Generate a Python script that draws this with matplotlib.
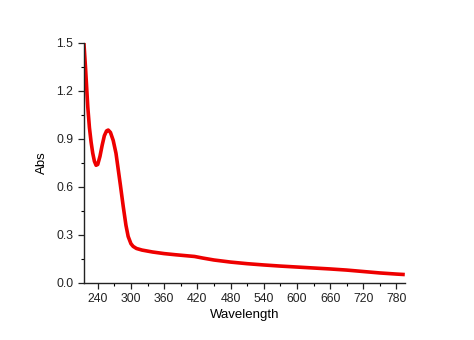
import matplotlib
matplotlib.use("Agg")
import matplotlib.pyplot as plt
from matplotlib.ticker import MultipleLocator

plt.rcParams['font.family'] = ['Liberation Sans', 'DejaVu Sans']

wavelength = [215, 218, 222, 225, 228, 231, 234, 237, 240, 244, 248, 252, 256, 259,
              263, 268, 273, 277, 281, 286, 291, 295, 300, 304, 310, 320, 339, 360,
              380, 399, 415, 430, 450, 480, 510, 540, 570, 600, 630, 660, 690, 720,
              750, 780, 795]
absorbance = [1.50, 1.34, 1.10, 0.97, 0.88, 0.81, 0.76, 0.735, 0.74, 0.79, 0.86, 0.92, 0.95, 0.955,
              0.94, 0.89, 0.81, 0.71, 0.61, 0.48, 0.36, 0.29, 0.245, 0.228, 0.215, 0.205, 0.193, 0.183,
              0.176, 0.170, 0.165, 0.155, 0.143, 0.130, 0.120, 0.112, 0.105, 0.099, 0.093, 0.087, 0.080, 0.071,
              0.062, 0.055, 0.052]

xticks = [240, 300, 360, 420, 480, 540, 600, 660, 720, 780]
yticks = [0.0, 0.3, 0.6, 0.9, 1.2, 1.5]

fig = plt.figure(figsize=(4.74, 3.40), dpi=100)
ax = fig.add_axes([0.177, 0.168, 0.677, 0.706])
ax.plot(wavelength, absorbance, color='#ee0000', linewidth=2.6, solid_capstyle='butt', clip_on=True)

ax.set_xlim(215, 795)
ax.set_ylim(0.0, 1.5)
ax.set_xticks(xticks)
ax.set_yticks(yticks)
ax.set_yticklabels([f"{v:.1f}" for v in yticks])
ax.xaxis.set_minor_locator(MultipleLocator(30))
ax.yaxis.set_minor_locator(MultipleLocator(0.15))
ax.tick_params(which='major', direction='out', length=4, width=0.9, labelsize=8.8, colors='#222222')
ax.tick_params(which='minor', direction='out', length=2.5, width=0.8)
for s in ['top', 'right']:
    ax.spines[s].set_visible(False)
for s in ['left', 'bottom']:
    ax.spines[s].set_linewidth(1.0)
    ax.spines[s].set_color('#222222')

ax.set_xlabel('Wavelength', fontsize=9.5, labelpad=3)
ax.set_ylabel('Abs', fontsize=9.5, labelpad=6)

fig.savefig('out.png', dpi=100)
